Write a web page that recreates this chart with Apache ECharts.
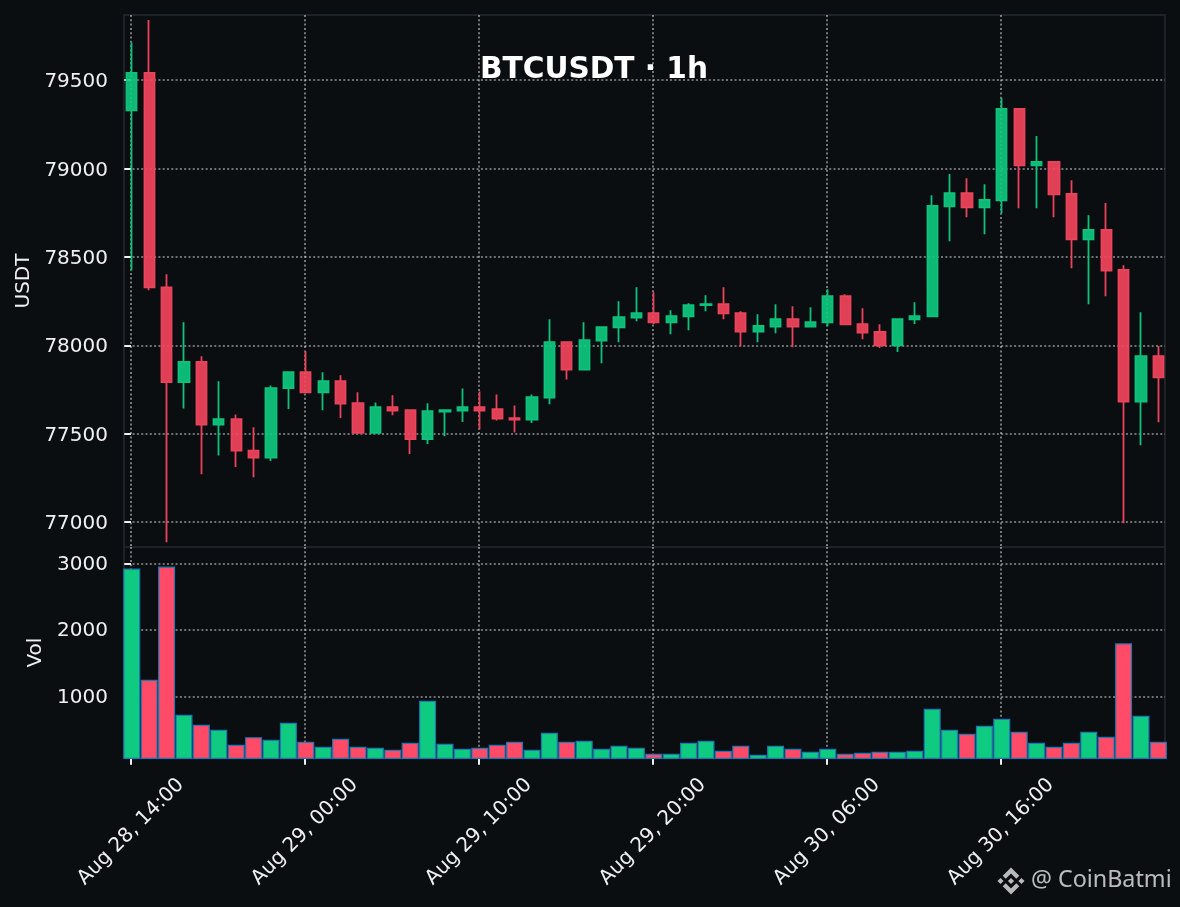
<!DOCTYPE html>
<html><head><meta charset="utf-8">
<style>html,body{margin:0;padding:0;background:#0b0e11}#c{width:1180px;height:907px}</style>
<script src="https://cdn.jsdelivr.net/npm/echarts@6/dist/echarts.min.js"></script>
</head><body><div id="c"></div>
<script>
const open_  = [79329,79541,78328,77791,77906,77551,77582,77404,77365,77758,77848,77733,77797,77673,77504,77650,77633,77469,77625,77631,77650,77639,77588,77580,77704,78018,77863,78027,78101,78157,78182,78129,78163,78227,78233,78182,78078,78106,78148,78106,78129,78278,78120,78075,77999,78146,78163,78786,78861,78780,78820,79337,79018,79037,78856,78599,78652,78426,77682,77939];
const close_ = [79541,78328,77791,77906,77551,77582,77404,77365,77758,77848,77733,77797,77670,77504,77650,77631,77469,77627,77633,77650,77631,77585,77580,77707,78018,77863,78029,78103,78159,78182,78129,78165,78227,78233,78180,78078,78109,78148,78106,78131,78278,78118,78072,77999,78148,78165,78788,78861,78780,78822,79337,79018,79037,78854,78599,78652,78423,77682,77939,77818];
const low_   = [78424,78311,76886,77643,77271,77377,77311,77254,77345,77639,77730,77632,77588,77500,77500,77604,77385,77441,77486,77566,77524,77575,77507,77560,77666,77807,77860,77898,78017,78136,78120,78062,78085,78192,78147,77994,78017,78068,77989,78104,78107,78116,78034,77985,77962,78120,78160,78589,78724,78628,78747,78775,78775,78724,78436,78232,78277,76994,77434,77564];
const high_  = [79713,79840,78402,78130,77938,77796,77609,77536,77773,77850,77966,77847,77830,77734,77677,77717,77633,77672,77633,77756,77738,77722,77660,77722,78147,78018,78130,78103,78249,78328,78300,78198,78238,78283,78328,78192,78175,78232,78221,78215,78317,78289,78209,78119,78150,78243,78849,78968,78945,78911,79398,79337,79183,79037,78934,78736,78804,78453,78187,77996];
const volume = [2921,1251,2951,725,574,499,274,388,349,604,319,243,364,243,228,198,304,935,289,213,228,273,318,198,454,318,333,213,258,228,138,138,303,333,183,258,123,258,213,168,213,138,153,168,168,183,814,499,439,559,664,469,303,243,303,469,393,1797,709,318];
const tickIdx = [0,10,20,30,40,50];
const tickLabels = ["Aug 28, 14:00","Aug 29, 00:00","Aug 29, 10:00","Aug 29, 20:00","Aug 30, 06:00","Aug 30, 16:00"];
const priceTicks = [77000,77500,78000,78500,79000,79500];
const volTicks = [1000,2000,3000];

const FONT = '"DejaVu Sans"';
const FS = 20;
const TXT = '#eef0f2';
const GRIDC = 'rgba(255,255,255,0.55)';
const SPINE = '#1e2329';
const UP = 'rgba(14,203,129,0.9)', DOWN = 'rgba(246,70,93,0.9)';
const UPE = '#0ec27c', DOWNE = '#ea435b';
const splitLine = {show:true,lineStyle:{color:GRIDC,type:[2,2.3],width:1.6}};
const tick = (v)=>({show:true,length:6.5,lineStyle:{color:TXT,width:2},customValues:v});
const LOGO = [
  [[38.73,53.2],[63.32,28.62],[87.92,53.22],[102.22,38.91],[63.32,0],[24.43,38.9]],
  [[0,63.31],[14.3,49],[28.61,63.31],[14.3,77.61]],
  [[38.73,73.41],[63.32,98],[87.92,73.4],[102.23,87.69],[63.33,126.6],[24.42,87.72]],
  [[98,63.31],[112.3,49],[126.61,63.3],[112.3,77.62]],
  [[77.83,63.3],[63.32,48.78],[48.81,63.28],[63.32,77.78]]
];
const markAxis = g=>({type:'value',gridIndex:g,show:false,min:-0.447,max:59.38,splitLine:{show:false},axisTick:{show:false},axisLabel:{show:false},axisLine:{show:false}});

const chart = echarts.init(document.getElementById('c'),null,{renderer:'canvas'});
chart.setOption({
  backgroundColor:'#0b0e11',
  animation:false,
  textStyle:{fontFamily:FONT},
  title:{text:'BTCUSDT · 1h',left:589,top:50.5,textAlign:'center',z:10,
    textStyle:{color:'#ffffff',fontFamily:FONT,fontWeight:'bold',fontSize:29.6}},
  grid:[
    {left:124,top:15,width:1041,height:532,show:true,backgroundColor:'transparent',borderColor:SPINE,borderWidth:2},
    {left:124,top:547,width:1041,height:211.3,show:true,backgroundColor:'transparent',borderColor:SPINE,borderWidth:2}
  ],
  xAxis:[0,1].map(g=>({
    type:'value',gridIndex:g,min:-0.402,max:59.425,position:'bottom',
    axisLine:{show:false},
    splitLine,
    axisTick:g===1?tick(tickIdx):{show:false,customValues:tickIdx},
    axisLabel:g===1?{show:true,customValues:tickIdx,rotate:45,align:'center',verticalAlign:'middle',margin:73.5,
      color:TXT,fontFamily:FONT,fontSize:FS,formatter:v=>tickLabels[tickIdx.indexOf(v)]}:{show:false,customValues:tickIdx}
  })).concat([markAxis(0),markAxis(1)]),
  yAxis:[
    {type:'value',gridIndex:0,min:76859,max:79868,name:'USDT',nameLocation:'middle',nameGap:89,
     nameTextStyle:{color:TXT,fontFamily:FONT,fontSize:FS},
     axisLine:{show:false},splitLine,axisTick:tick(priceTicks),
     axisLabel:{customValues:priceTicks,color:TXT,fontFamily:FONT,fontSize:FS,margin:16,verticalAlign:'top',lineHeight:4,formatter:v=>String(v)}},
    {type:'value',gridIndex:1,min:70,max:3245,name:'Vol',nameLocation:'middle',nameGap:76,
     nameTextStyle:{color:TXT,fontFamily:FONT,fontSize:FS},
     axisLine:{show:false},splitLine,axisTick:tick(volTicks),
     axisLabel:{customValues:volTicks,color:TXT,fontFamily:FONT,fontSize:FS,margin:16,verticalAlign:'top',lineHeight:2,formatter:v=>String(v)}}
  ],
  series:[
    {type:'candlestick',xAxisIndex:2,yAxisIndex:0,barWidth:10.8,
     itemStyle:{color:UP,color0:DOWN,borderColor:UPE,borderColor0:DOWNE,borderWidth:1.8},
     data:open_.map((o,i)=>[i,o,close_[i],low_[i],high_[i]])},
    {type:'bar',xAxisIndex:3,yAxisIndex:1,barWidth:17,
     itemStyle:{borderColor:'#1f77b4',borderWidth:1.2},
     data:volume.map((v,i)=>({value:[i,v],itemStyle:{color:close_[i]>=open_[i]?'#0ecb81':'#ff4b68'}}))}
  ],
  graphic:[
    {type:'group',x:997.5,y:867.5,scaleX:27/126.61,scaleY:27/126.61,z:20,
     children:LOGO.map(points=>({type:'polygon',shape:{points},style:{fill:'rgba(225,225,225,0.82)'},z:20}))},
    {type:'text',x:1031,y:869,z:20,style:{text:'@ CoinBatmi',fill:'rgba(230,232,235,0.8)',fontFamily:'"Noto Sans"',fontSize:23.3}}
  ]
});
</script></body></html>
